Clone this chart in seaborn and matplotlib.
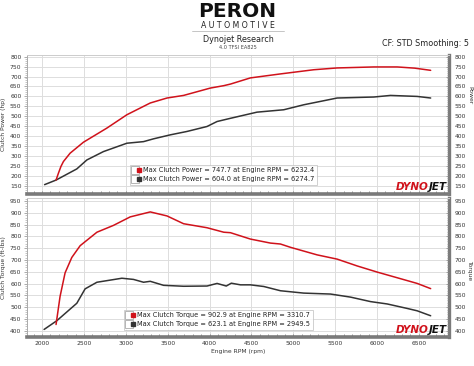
import numpy as np
import pandas as pd
import matplotlib
matplotlib.use("Agg")
import matplotlib.pyplot as plt
import seaborn as sns
from matplotlib.lines import Line2D
from matplotlib.legend_handler import HandlerTuple
from matplotlib.offsetbox import TextArea, HPacker, AnchoredOffsetbox
from matplotlib.ticker import MultipleLocator

# ---------------- data ----------------
red_power_rpm = [2167, 2195, 2225, 2255, 2335, 2494, 2774, 3013, 3292, 3492, 3690, 4010, 4170, 4250,
                 4488, 4847, 5245, 5524, 5962, 6242, 6450, 6641]
red_power_hp = [180, 214, 248, 273, 315, 370, 441, 508, 567, 592, 605, 642, 654, 662,
                693, 713, 734, 743, 748, 748, 742, 731]

blk_power_rpm = [2030, 2167, 2415, 2535, 2733, 3013, 3212, 3331, 3531, 3730, 3970, 4090, 4249,
                 4567, 4886, 5125, 5524, 5962, 6161, 6480, 6641]
blk_power_hp = [157, 180, 236, 281, 323, 365, 373, 387, 407, 424, 449, 474, 490,
                521, 533, 558, 592, 597, 605, 600, 592]

red_torque_rpm = [2167, 2215, 2275, 2355, 2455, 2655, 2853, 3053, 3292, 3492, 3690, 3970, 4170,
                  4250, 4488, 4727, 4847, 4967, 5285, 5524, 5764, 6003, 6242, 6480, 6641]
red_torque_ftlb = [427, 546, 646, 711, 761, 818, 847, 883, 904, 887, 854, 837, 818,
                   816, 789, 772, 768, 754, 722, 704, 675, 649, 625, 601, 579]

blk_torque_rpm = [2024, 2176, 2415, 2514, 2655, 2813, 2953, 3092, 3212, 3292, 3451, 3690, 3970,
                  4090, 4200, 4260, 4370, 4488, 4648, 4847, 5125, 5445, 5684, 5923, 6122,
                  6361, 6480, 6641]
blk_torque_ftlb = [406, 443, 517, 578, 606, 615, 623, 618, 606, 610, 593, 589, 590,
                   601, 590, 602, 595, 595, 588, 570, 560, 556, 543, 524, 514,
                   495, 485, 464]

legend_power = ["Max Clutch Power = 747.7 at Engine RPM = 6232.4",
                "Max Clutch Power = 604.0 at Engine RPM = 6274.7"]
legend_torque = ["Max Clutch Torque = 902.9 at Engine RPM = 3310.7",
                 "Max Clutch Torque = 623.1 at Engine RPM = 2949.5"]

RED = "#d0121b"
BLK = "#333333"
GRID = "#dddddd"
SPINE = "#7a7a7a"

sns.set_theme(style="white")
plt.rcParams['font.family'] = ['DejaVu Sans']

W, H = 474, 366
fig = plt.figure(figsize=(W / 100, H / 100), dpi=100)
fig.patch.set_facecolor("white")


def ax_rect(l, t, r, b):
    return [l / W, 1 - b / H, (r - l) / W, (b - t) / H]


ax1 = fig.add_axes(ax_rect(27, 55, 449, 194))
ax2 = fig.add_axes(ax_rect(27, 198, 449, 337))

df_p = pd.concat([
    pd.DataFrame({"rpm": red_power_rpm, "val": red_power_hp, "run": "a"}),
    pd.DataFrame({"rpm": blk_power_rpm, "val": blk_power_hp, "run": "b"}),
])
df_t = pd.concat([
    pd.DataFrame({"rpm": red_torque_rpm, "val": red_torque_ftlb, "run": "a"}),
    pd.DataFrame({"rpm": blk_torque_rpm, "val": blk_torque_ftlb, "run": "b"}),
])

for ax, df in [(ax1, df_p), (ax2, df_t)]:
    sns.lineplot(data=df, x="rpm", y="val", hue="run", palette={"a": RED, "b": BLK},
                 hue_order=["b", "a"], ax=ax, legend=False, linewidth=1.1, sort=True)

xlim = (1820, 6860)
ax1.set_ylim(110, 808)
ax2.set_ylim(374, 963)

TICKFS = 4.3
for ax, lo, hi, step in [(ax1, 150, 800, 50), (ax2, 400, 950, 50)]:
    ax.set_xlim(*xlim)
    ax.set_yticks(np.arange(lo, hi + 1, step))
    ax.xaxis.set_major_locator(MultipleLocator(500))
    ax.xaxis.set_minor_locator(MultipleLocator(100))
    ax.yaxis.set_minor_locator(MultipleLocator(10))
    ax.grid(True, which="major", color=GRID, linewidth=0.7)
    ax.set_axisbelow(True)
    ax.set_xlabel("")
    ax.set_ylabel("")
    ax.spines["top"].set_color("#cccccc")
    ax.spines["top"].set_linewidth(0.7)
    ax.spines["left"].set_color("#aaaaaa")
    ax.spines["left"].set_linewidth(0.7)
    ax.spines["bottom"].set_color(SPINE)
    ax.spines["bottom"].set_linewidth(2.6)
    ax.spines["right"].set_color(SPINE)
    ax.spines["right"].set_linewidth(2.4)
    ax.tick_params(axis="y", which="major", left=True, length=2.5, width=0.5, color="#888888",
                   labelsize=TICKFS, pad=1.5, labelcolor="#333333")
    ax.tick_params(axis="y", which="minor", left=True, length=1.5, width=0.4, color="#999999")
    ax.tick_params(axis="x", which="both", bottom=True, direction="in", length=2.5, width=0.5,
                   color="#666666")
    ax.tick_params(axis="x", which="major", labelsize=TICKFS, pad=3, labelcolor="#333333")
    ax.set_xticks(np.arange(2000, 6501, 500))

    axr = ax.twinx()
    axr.set_ylim(ax.get_ylim())
    axr.set_yticks(np.arange(lo, hi + 1, step))
    axr.yaxis.set_minor_locator(MultipleLocator(10))
    axr.tick_params(axis="y", which="major", right=True, length=2.5, width=0.5, color="#888888",
                    direction="in", labelsize=TICKFS, pad=4, labelcolor="#333333")
    axr.tick_params(axis="y", which="minor", right=True, length=1.5, width=0.4, color="#888888",
                    direction="in")
    axr.grid(False)
    for s in axr.spines.values():
        s.set_visible(False)

ax1.tick_params(axis="x", labelbottom=False)

ax1.set_ylabel("Clutch Power (hp)", fontsize=TICKFS, labelpad=3, color="#333333")
ax2.set_ylabel("Clutch Torque (ft-lbs)", fontsize=TICKFS, labelpad=3, color="#333333")
ax2.set_xlabel("Engine RPM (rpm)", fontsize=TICKFS, labelpad=2, color="#333333")
fig.text(470 / W, 1 - 95 / H, "Power", rotation=270, fontsize=TICKFS, ha="center", va="center",
         color="#333333")
fig.text(470 / W, 1 - 270 / H, "Torque", rotation=270, fontsize=TICKFS, ha="center", va="center",
         color="#333333")


def make_handle(c):
    outer = Line2D([], [], marker="s", linestyle="none", markersize=6.0,
                   markerfacecolor="white", markeredgecolor="#999999", markeredgewidth=0.5)
    inner = Line2D([], [], marker="s", linestyle="none", markersize=2.8,
                   markerfacecolor=c, markeredgecolor=c)
    return (outer, inner)


for ax, labels, anchor in [(ax1, legend_power, (0.244, 0.065)), (ax2, legend_torque, (0.23, 0.05))]:
    leg = ax.legend([make_handle(RED), make_handle(BLK)], labels,
                    handler_map={tuple: HandlerTuple(ndivide=None, pad=0)},
                    loc="lower left", bbox_to_anchor=anchor, borderaxespad=0,
                    fontsize=4.8, frameon=True, fancybox=False, handlelength=1.3,
                    handletextpad=0.3, borderpad=0.4, labelspacing=0.45)
    leg.get_frame().set_edgecolor("#bbbbbb")
    leg.get_frame().set_linewidth(0.6)
    for t in leg.get_texts():
        t.set_color("#222222")

    # DYNOJET logo
    t1 = TextArea("DYNO", textprops=dict(color=RED, fontsize=7.5, fontweight="bold",
                                         fontstyle="italic"))
    t2 = TextArea("JET", textprops=dict(color="#111111", fontsize=7.5, fontweight="bold",
                                        fontstyle="italic"))
    box = HPacker(children=[t1, t2], pad=0, sep=0)
    anc = AnchoredOffsetbox(loc="lower right", child=box, pad=0.05, borderpad=0.1, frameon=False,
                            bbox_to_anchor=(1.0, 0.0), bbox_transform=ax.transAxes)
    ax.add_artist(anc)

# header
fig.text(237 / W, 1 - 11.5 / H, "PERON", fontsize=14.5, fontweight="bold", ha="center",
         va="center", color="#111111")
fig.text(238 / W, 1 - 25.5 / H, "A U T O M O T I V E", fontsize=5.6, ha="center", va="center",
         color="#222222")
fig.add_artist(Line2D([192 / W, 284 / W], [1 - 31 / H, 1 - 31 / H], color="#bbbbbb", linewidth=0.6))
fig.text(238 / W, 1 - 39 / H, "Dynojet Research", fontsize=5.8, ha="center", va="center",
         color="#222222")
fig.text(238 / W, 1 - 47.5 / H, "4.0 TFSI EA825", fontsize=3.6, ha="center", va="center",
         color="#444444")
fig.text(469 / W, 1 - 43 / H, "CF: STD Smoothing: 5", fontsize=5.8, ha="right", va="center",
         color="#222222")

fig.savefig("out.png", dpi=100)
